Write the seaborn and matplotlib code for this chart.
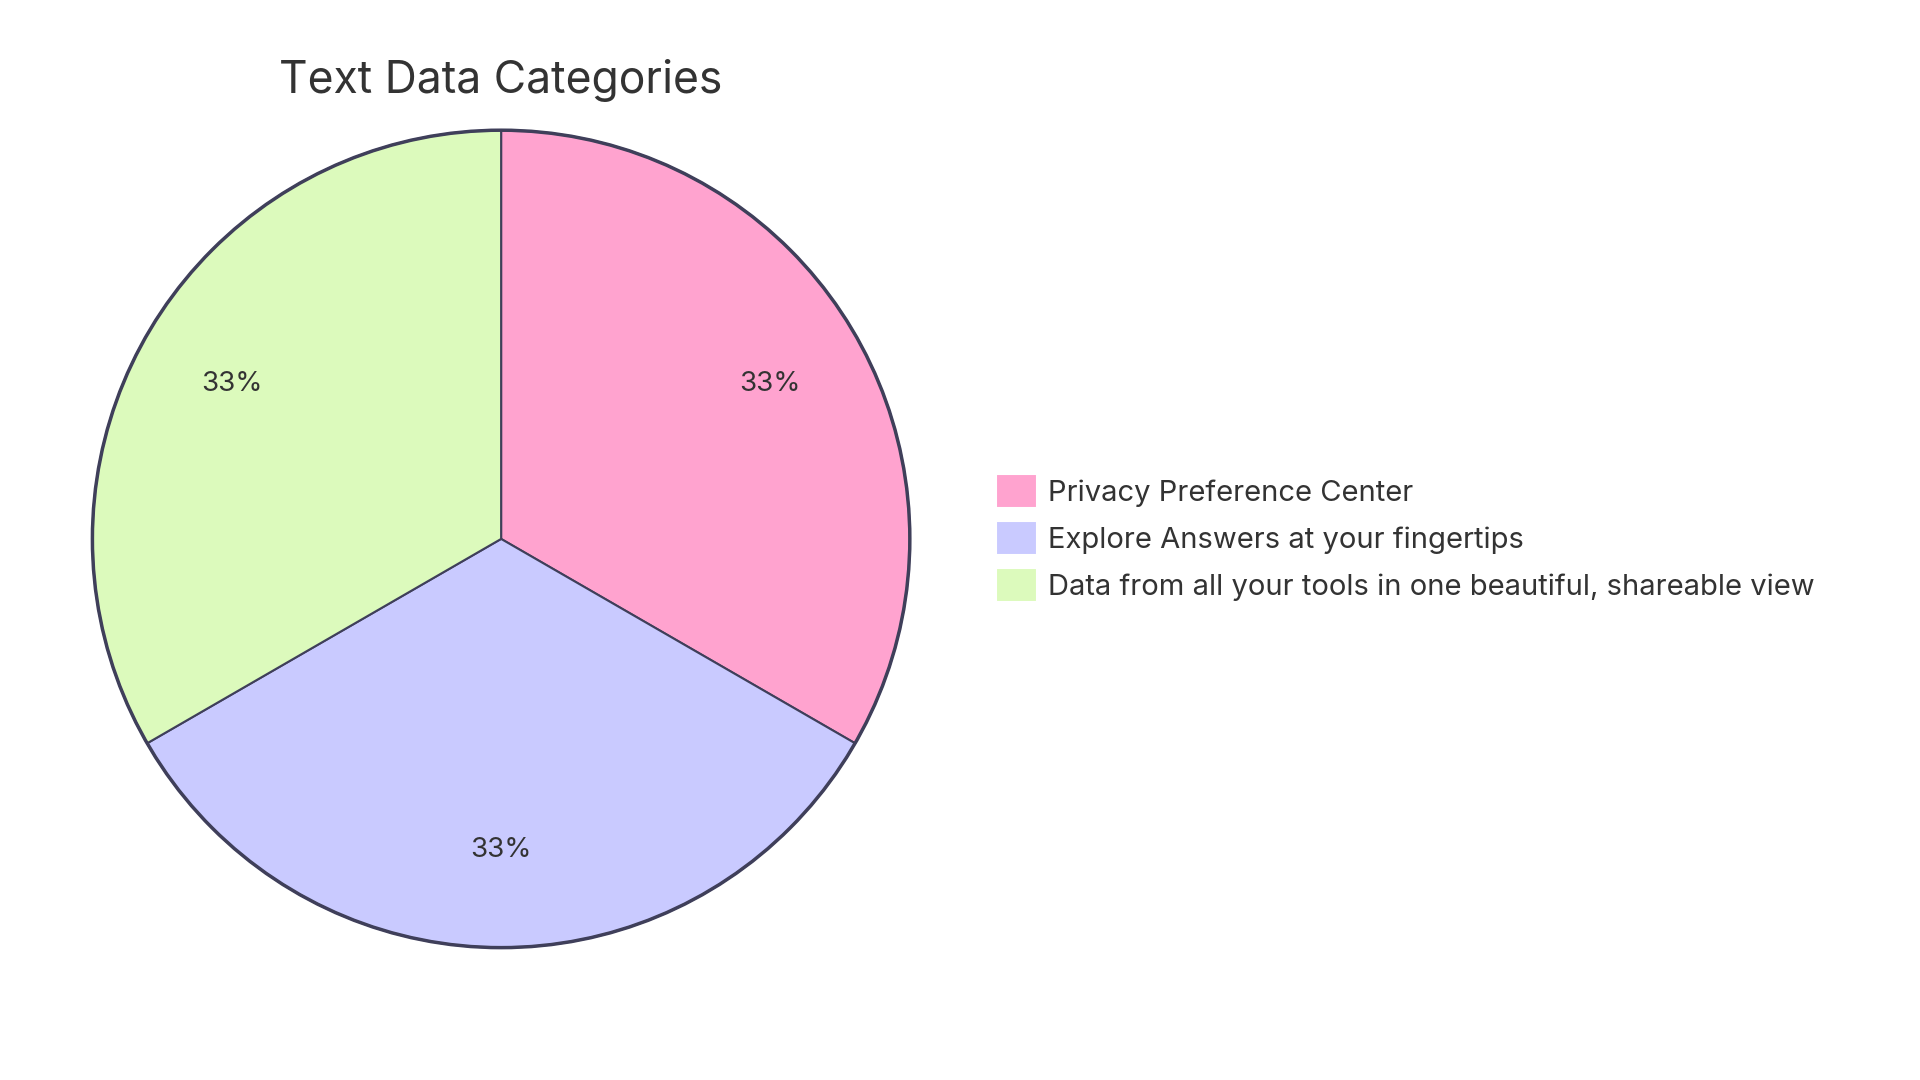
import matplotlib
matplotlib.use("Agg")
import matplotlib.pyplot as plt
import seaborn as sns

categories = ["Privacy Preference Center",
              "Explore Answers at your fingertips",
              "Data from all your tools in one beautiful, shareable view"]
values = [1, 1, 1]
colors = ["#FFA3CF", "#C9CAFF", "#DCFABC"]

sns.set_theme(style="white")
plt.rcParams['font.family'] = ['Inter', 'DejaVu Sans']

fig = plt.figure(figsize=(19.2, 10.8), dpi=100)
ax = fig.add_axes([0.046, 0.1185, 0.430, 0.765])
wedges, texts, autotexts = ax.pie(
    values, colors=colors, startangle=90, counterclock=False,
    autopct=lambda p: f"{p:.0f}%", pctdistance=0.76,
    wedgeprops=dict(edgecolor="#3F3F5A", linewidth=1.5),
    textprops=dict(fontsize=20, color="#333333"))
# thicker outer rim
ax.add_patch(plt.Circle((0, 0), 1, fill=False, edgecolor="#3F3F5A", linewidth=2.5))
ax.set_aspect("equal")
ax.set_xlim(-1.01, 1.01)
ax.set_ylim(-1.01, 1.01)

fig.text(0.261, 0.925, "Text Data Categories", ha="center", va="center",
         fontsize=32, color="#333333")

fig.legend(wedges, categories, loc="upper left", bbox_to_anchor=(0.505, 0.585),
           frameon=False, fontsize=21, handlelength=1.4, handleheight=1.4,
           handletextpad=0.4, labelspacing=0.45, labelcolor="#333333")
for h in fig.legends[0].legend_handles:
    h.set_edgecolor("white")

fig.savefig("out.png", dpi=100)
